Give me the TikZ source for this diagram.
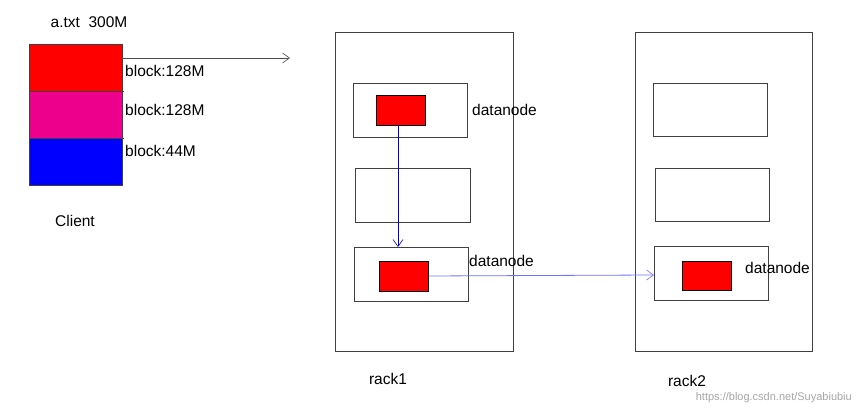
\documentclass[tikz,border=0pt]{standalone}
\usepackage{fontspec}
\setmainfont{Liberation Sans}
\usetikzlibrary{arrows.meta}
\begin{document}
\begin{tikzpicture}[x=1pt,y=-1pt,
  box/.style={draw=black!75,line width=0.8pt},
  lbl/.style={anchor=west,inner sep=0pt,font=\fontsize{15.5}{18}\selectfont},
  tip/.style={-{Straight Barb[length=7pt,width=10pt,line width=0.6pt]}}]
\useasboundingbox[fill=white] (0,0) rectangle (867,411);
% client
\node[lbl,anchor=center] (title) at (89,22) {a.txt\ \ 300M};
\fill[red] (29,44) rectangle (122,91);
\fill[magenta] (29,91) rectangle (122,138);
\fill[blue] (29,138) rectangle (122,185);
\draw[black!75] (29,44) rectangle (122,185);
\draw[black!75] (29,91) -- (124,91) (29,138) -- (124,138);
\node[lbl] (b1) at (125,71) {block:128M};
\node[lbl] (b2) at (125,110) {block:128M};
\node[lbl] (b3) at (125,151) {block:44M};
\node[lbl,anchor=center] (client) at (75,221) {Client};
\coordinate (cs) at (122,58);
\coordinate (ce) at (290,58);
\draw[black!70,tip] (cs) -- (ce);
% racks
\draw[box] (335,32) rectangle (513,351);
\draw[box] (635,32) rectangle (812,351);
\node[lbl,anchor=center] (r1) at (388,379) {rack1};
\node[lbl,anchor=center] (r2) at (687,381) {rack2};
% datanodes
\draw[box] (353,83) rectangle (467,137);
\draw[box] (355,168) rectangle (470,222);
\draw[box] (354,247) rectangle (468,301);
\draw[box] (653,83) rectangle (767,136);
\draw[box] (655,168) rectangle (769,221);
\draw[box] (654,246) rectangle (768,300);
\node[fill=red,draw=black,line width=0.5pt,minimum width=49pt,minimum height=30pt,inner sep=0pt] (k1) at (400.5,110) {};
\node[fill=red,draw=black,line width=0.5pt,minimum width=49pt,minimum height=30pt,inner sep=0pt] (k2) at (403.5,276) {};
\node[fill=red,draw=black,line width=0.5pt,minimum width=49pt,minimum height=29pt,inner sep=0pt] (k3) at (706.5,275.5) {};
\node[lbl] (d1) at (472,110) {datanode};
\node[lbl] (d2) at (469,261) {datanode};
\node[lbl] (d3) at (745,268) {datanode};
\coordinate (t1) at (398,247);
\coordinate (t2) at (654,275);
\draw[blue!80!black,line width=0.8pt,tip] (k1.south -| t1) -- (t1);
\draw[blue!55,line width=0.8pt,tip] (k2.east) -- (t2);
\node[anchor=east,inner sep=0pt,text=black!35,font=\fontsize{11}{13}\selectfont] (wm) at (852,398) {https://blog.csdn.net/Suyabiubiu};
\end{tikzpicture}
\end{document}
